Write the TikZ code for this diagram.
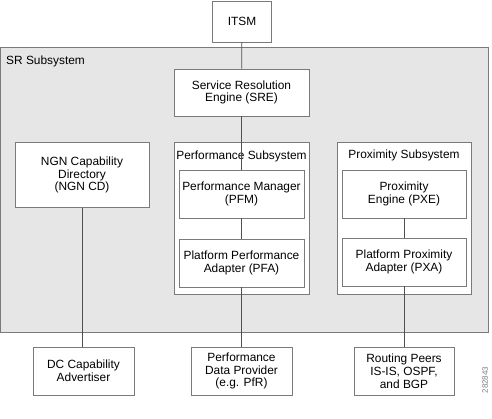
\documentclass[tikz,border=0pt]{standalone}
\usepackage{fontspec}
\setmainfont{Liberation Sans}
\definecolor{boxline}{HTML}{7A7A7A}
\definecolor{srfill}{HTML}{E6E6E6}
\definecolor{wire}{HTML}{505050}
\begin{document}
\begin{tikzpicture}[x=1pt,y=-1pt,
  every node/.style={font=\fontsize{11.9}{12.8}\selectfont},
  box/.style={draw=boxline, fill=white, line width=0.9pt, align=center, inner sep=0pt},
  tag/.style={inner sep=0pt},
  wire/.style={draw=wire, line width=0.8pt}]
\useasboundingbox (0,0) rectangle (492,419);

\node[box, fill=srfill, minimum width=488pt, minimum height=285pt] (sr) at (244.5,189.5) {};
\node[tag, anchor=base west] (srlabel) at (6,65) {SR Subsystem};

\node[box, minimum width=59pt, minimum height=41pt] (itsm) at (242,21.5) {ITSM};
\node[box, minimum width=135pt, minimum height=47pt] (sre) at (241.5,92.5) {Service Resolution\\Engine (SRE)};
\node[box, minimum width=134pt, minimum height=65pt] (ngn) at (82,175) {NGN Capability\\Directory\\(NGN CD)};

\node[box, minimum width=135pt, minimum height=152pt] (perfsub) at (241.5,218) {};
\node[tag, anchor=base] (perflabel) at ([yshift=-18pt]perfsub.north) {Performance Subsystem};
\node[box, minimum width=125pt, minimum height=48pt] (pfm) at (241.5,194) {Performance Manager\\(PFM)};
\node[box, minimum width=125pt, minimum height=48pt] (pfa) at (241.5,263) {Platform Performance\\Adapter (PFA)};

\node[box, minimum width=134pt, minimum height=152pt] (proxsub) at (404,218) {};
\node[tag, anchor=base] (proxlabel) at ([yshift=-17pt]proxsub.north) {Proximity Subsystem};
\node[box, minimum width=124pt, minimum height=48pt] (pxe) at (404,194) {Proximity\\Engine (PXE)};
\node[box, minimum width=124pt, minimum height=48pt] (pxa) at (404,262) {Platform Proximity\\Adapter (PXA)};

\node[box, minimum width=101pt, minimum height=48pt] (dc) at (83.5,371) {DC Capability\\Advertiser};
\node[box, minimum width=101pt, minimum height=48pt] (pdp) at (241.5,371) {Performance\\Data Provider\\(e.g. PfR)};
\node[box, minimum width=100pt, minimum height=48pt] (rp) at (404,371) {Routing Peers\\IS-IS, OSPF,\\and BGP};

\node[tag, rotate=90, text=gray, font=\fontsize{8}{9}\selectfont] (figid) at (485,380) {282843};

\draw[wire] (itsm) -- (sre);
\draw[wire] (sre) -- (pfm);
\draw[wire] (pfm) -- (pfa);
\draw[wire] (pfa) -- (pdp);
\draw[wire] (ngn.south) -- (ngn.south |- dc.north);
\draw[wire] (pxe) -- (pxa);
\draw[wire] (pxa) -- (rp);
\end{tikzpicture}
\end{document}
